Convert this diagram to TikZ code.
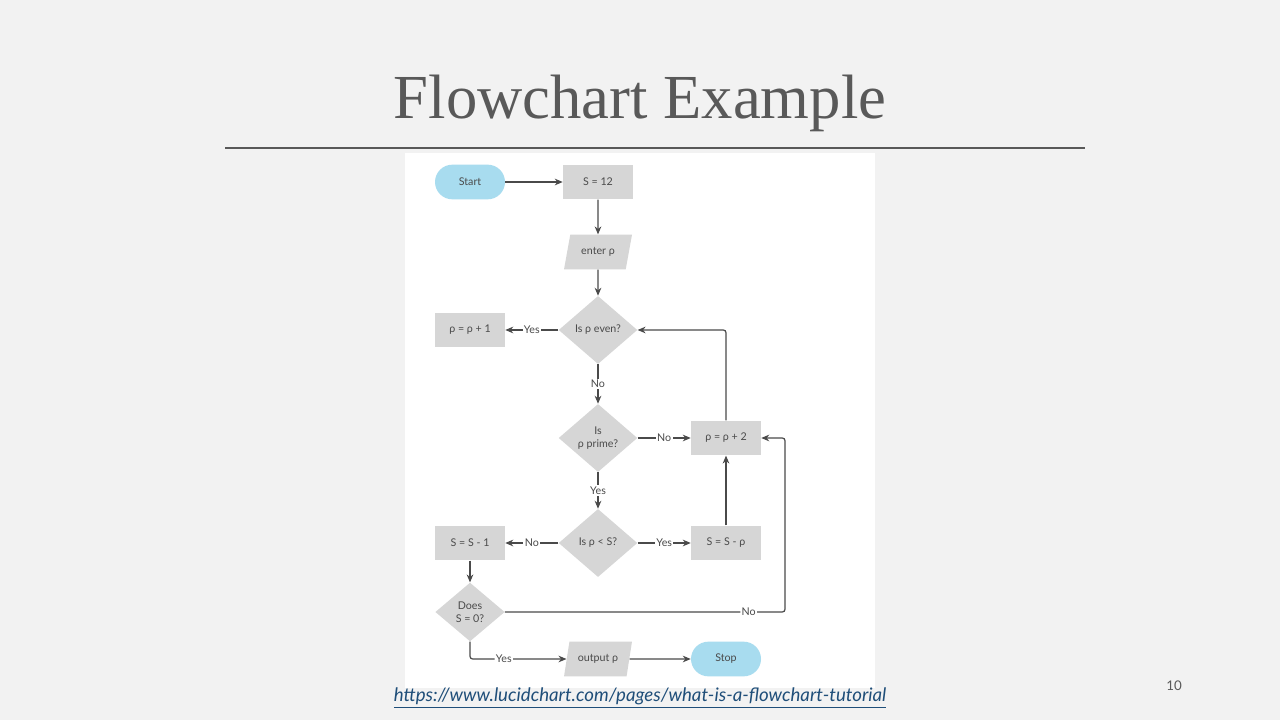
\documentclass[tikz,border=0pt]{standalone}
\usepackage{fontspec}
\setmainfont{Lato}
\newfontfamily\titlefont{Liberation Serif}
\usetikzlibrary{shapes.geometric,arrows.meta}
\definecolor{bg}{HTML}{F2F2F2}
\definecolor{boxg}{HTML}{D6D6D6}
\definecolor{lblue}{HTML}{A8DCEF}
\definecolor{ln}{HTML}{4A4A4A}
\definecolor{tgray}{HTML}{595959}
\definecolor{url}{HTML}{1F4E79}
\begin{document}
\begin{tikzpicture}[x=0.75pt,y=-0.75pt,
  every node/.style={font=\fontsize{8}{9.5}\selectfont, text=ln, align=center},
  proc/.style={draw=none, fill=boxg, minimum width=52.5pt, minimum height=26pt},
  term/.style={draw=none, fill=lblue, rounded corners=13pt, minimum width=52.5pt, minimum height=26pt},
  io/.style={trapezium, trapezium left angle=78, trapezium right angle=102, trapezium stretches=true, fill=boxg, minimum width=51pt, minimum height=26pt, inner xsep=0pt},
  dec/.style={diamond, fill=boxg, minimum width=59pt, minimum height=51pt, inner sep=0pt},
  arr/.style={draw=ln, line width=0.9pt, -{Stealth[length=6pt,width=5pt]}},
  lab/.style={fill=white, inner sep=1pt}]
\fill[bg] (0,0) rectangle (1280,720);
\useasboundingbox (0,0) rectangle (1280,720);
\fill[white] (405,153) rectangle (875,688);
\node[font=\titlefont\fontsize{47}{52}\selectfont, text=tgray] (title) at (640,103) {Flowchart Example};
\draw[tgray, line width=1pt] (225,148) -- (1085,148);

\node[term] (start) at (470,182) {Start};
\node[proc] (s12) at (598,182) {S = 12};
\node[io] (enter) at (598,252) {enter ρ};
\node[dec] (even) at (598,330) {Is ρ even?};
\node[proc] (p1) at (470,330) {ρ = ρ + 1};
\node[dec] (prime) at (598,438) {Is\\ρ prime?};
\node[proc] (p2) at (726,438) {ρ = ρ + 2};
\node[dec] (lt) at (598,543) {Is ρ < S?};
\node[proc] (sm1) at (470,543) {S = S - 1};
\node[proc] (smp) at (726,543) {S = S - ρ};
\node[dec, minimum width=52pt, minimum height=44pt] (zero) at (470,612) {Does\\S = 0?};
\node[io] (out) at (598,659) {output ρ};
\node[term] (stop) at (726,659) {Stop};
\coordinate (c1) at (726,330);
\coordinate (c2) at (785,612);
\coordinate (c3) at (785,438);
\coordinate (c4) at (470,659);

\draw[arr] (start) -- (s12);
\draw[arr] (s12) -- (enter);
\draw[arr] (enter) -- (even);
\draw[arr] (even) -- node[lab]{Yes} (p1);
\draw[arr] (even) -- node[lab]{No} (prime);
\draw[arr] (prime) -- node[lab]{No} (p2);
\draw[arr] (prime) -- node[lab]{Yes} (lt);
\draw[arr] (lt) -- node[lab]{No} (sm1);
\draw[arr] (lt) -- node[lab]{Yes} (smp);
\draw[arr] (smp) -- (p2);
\draw[arr, rounded corners=2pt] (p2) -- (c1) -- (even);
\draw[arr] (sm1) -- (zero);
\draw[arr, rounded corners=2pt] (zero) -- node[lab, pos=0.87]{No} (c2) -- (c3) -- (p2);
\draw[arr, rounded corners=2pt] (zero) -- (c4) -- node[lab, pos=0.35]{Yes} (out);
\draw[arr] (out) -- (stop);

\node[font=\itshape\fontsize{14}{16}\selectfont, text=url] (link) at (640,698) {\underline{https://www.lucidchart.com/pages/what-is-a-flowchart-tutorial}};
\node[font=\fontsize{10}{12}\selectfont, text=tgray] (pg) at (1174,686) {10};
\end{tikzpicture}
\end{document}
